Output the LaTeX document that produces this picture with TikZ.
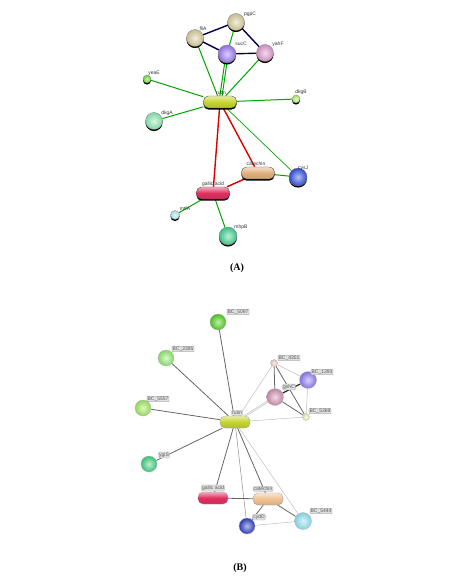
\documentclass[tikz,border=0pt]{standalone}
\usepackage{fontspec}
\setmainfont{Liberation Serif}
\setsansfont{Liberation Sans}
\usetikzlibrary{shadows}
\pgfdeclarelayer{bg}
\pgfsetlayers{bg,main}
\tikzset{
  ballA/.style={circle, inner sep=0pt, inner color=#1!35!white, outer color=#1!92!black, draw=black!50, line width=0.3pt,
    drop shadow={shadow xshift=0pt, shadow yshift=-1.6pt, fill=black, opacity=1}},
  ballB/.style={circle, inner sep=0pt, inner color=#1!35!white, outer color=#1!92!black, draw=black!30, line width=0.3pt},
  pillA/.style={rectangle, rounded corners=5pt, inner sep=0pt, minimum width=33pt, minimum height=12pt,
    top color=#1!40, bottom color=#1!90!black, middle color=#1, draw=black!70, line width=0.4pt,
    drop shadow={shadow xshift=0pt, shadow yshift=-1.6pt, fill=black, opacity=1}},
  pillB/.style={rectangle, rounded corners=5pt, inner sep=0pt, minimum width=30pt, minimum height=12pt,
    top color=#1!40, bottom color=#1!90!black, middle color=#1, draw=black!40, line width=0.3pt},
  labA/.style={font=\sffamily\fontsize{5}{6}\selectfont, text=black!80, inner sep=0.5pt},
  labB/.style={font=\sffamily\fontsize{5}{6}\selectfont, text=black!65, fill=black!12, draw=black!40,
    line width=0.2pt, rounded corners=1pt, inner sep=0.6pt},
  grn/.style={draw=green!65!black, line width=1pt},
  redl/.style={draw=red!85!black, line width=1.4pt},
  navy/.style={draw=blue!30!black, line width=1.4pt},
  gdark/.style={draw=black!60, line width=0.8pt},
  glight/.style={draw=black!25, line width=0.5pt},
  captxt/.style={font=\bfseries\fontsize{10}{12}\selectfont}
}
\definecolor{cTan}{HTML}{D6CC9C}
\definecolor{cViol}{HTML}{9A78F0}
\definecolor{cPink}{HTML}{DC98CC}
\definecolor{cGrn}{HTML}{6CE03C}
\definecolor{cMint}{HTML}{8CE8B0}
\definecolor{cLime}{HTML}{B0F070}
\definecolor{cRutin}{HTML}{C4D42C}
\definecolor{cCat}{HTML}{E0B07C}
\definecolor{cBlue}{HTML}{3050E0}
\definecolor{cGal}{HTML}{E03060}
\definecolor{cCyan}{HTML}{B0F0F0}
\definecolor{cTeal}{HTML}{40D090}
\definecolor{cG1}{HTML}{50D020}
\definecolor{cG2}{HTML}{90E870}
\definecolor{cG3}{HTML}{A0E860}
\definecolor{cG4}{HTML}{40D080}
\definecolor{cPeach}{HTML}{F0D0C0}
\definecolor{cPur}{HTML}{8E7CF0}
\definecolor{cRose}{HTML}{D090B0}
\definecolor{cPale}{HTML}{F0F0B0}
\definecolor{cCat2}{HTML}{F0C090}
\definecolor{cNavy}{HTML}{3040C0}
\definecolor{cSky}{HTML}{90E0F0}
\begin{document}
\begin{tikzpicture}[x=1pt,y=-1pt]
\useasboundingbox (0,0) rectangle (474,577);
% ---------------- Panel A ----------------
\node[ballA=cTan, minimum size=17pt] (fliA) at (195,38) {};
\node[ballA=cTan, minimum size=17pt] (pgpC) at (236,22) {};
\node[ballA=cViol, minimum size=18pt] (sucC) at (227,54) {};
\node[ballA=cPink, minimum size=17pt] (yahF) at (265,53) {};
\node[ballA=cGrn, minimum size=8pt] (yeaE) at (147,79) {};
\node[ballA=cMint, minimum size=17pt] (dkgA) at (154,121) {};
\node[ballA=cLime, minimum size=8pt] (dkgB) at (296,99) {};
\node[pillA=cRutin] (rutinA) at (220,102) {};
\node[pillA=cCat] (catA) at (258,173) {};
\node[ballA=cBlue, minimum size=18pt] (cysJ) at (298,177) {};
\node[pillA=cGal] (galA) at (213,193) {};
\node[ballA=cCyan, minimum size=9pt] (mtfA) at (175,215) {};
\node[ballA=cTeal, minimum size=18pt] (mhpB) at (228,236) {};
\node[labA] (lfliA) at (203,29) {fliA};
\node[labA] (lpgpC) at (250,14) {pgpC};
\node[labA] (lsucC) at (241,44) {sucC};
\node[labA] (lyahF) at (278,44) {yahF};
\node[labA] (lyeaE) at (154,73) {yeaE};
\node[labA] (ldkgA) at (167,113) {dkgA};
\node[labA] (ldkgB) at (301,92) {dkgB};
\node[labA] (lrutinA) at (221,93) {rutin};
\node[labA] (lcatA) at (256,164) {catechin};
\node[labA] (lcysJ) at (303,168) {cysJ};
\node[labA] (lgalA) at (213,184) {gallic acid};
\node[labA] (lmtfA) at (185,209) {mtfA};
\node[labA] (lmhpB) at (241,227) {mhpB};
\node[captxt] (capA) at (237,268) {(A)};
\begin{pgfonlayer}{bg}
\draw[navy] (fliA) -- (pgpC);
\draw[navy] (fliA) -- (sucC);
\draw[navy] (pgpC) -- (yahF);
\draw[navy] (sucC) -- (yahF);
\draw[grn] (pgpC) -- (sucC);
\draw[grn] ([xshift=-1pt]sucC.center) -- ([xshift=-1pt]rutinA.center);
\draw[grn] ([xshift=1.2pt]sucC.center) -- ([xshift=1.2pt]rutinA.center);
\draw[grn] (fliA) -- (rutinA);
\draw[grn] (yahF) -- (rutinA);
\draw[grn] (yeaE) -- (rutinA);
\draw[grn] (dkgA) -- (rutinA);
\draw[grn] (dkgB) -- (rutinA);
\draw[grn, line width=0.7pt] (rutinA) -- (cysJ);
\draw[grn] (catA) -- (cysJ);
\draw[redl] (rutinA) -- (catA);
\draw[redl] (rutinA) -- (galA);
\draw[redl] (catA) -- (galA);
\draw[grn] (galA) -- (mtfA);
\draw[grn] (galA) -- (mhpB);
\end{pgfonlayer}
% ---------------- Panel B ----------------
\node[ballB=cG1, minimum size=16pt] (b5097) at (218,322) {};
\node[ballB=cG2, minimum size=16pt] (b2395) at (166,358) {};
\node[ballB=cG3, minimum size=16pt] (b5557) at (143,408) {};
\node[pillB=cRutin] (rutinB) at (235,422) {};
\node[ballB=cPeach, minimum size=7pt] (b4351) at (274,363) {};
\node[ballB=cPur, minimum size=17pt] (b1393) at (308,380) {};
\node[ballB=cRose, minimum size=17pt] (gshC) at (275,397) {};
\node[ballB=cPale, minimum size=7pt] (b5369) at (306,417) {};
\node[ballB=cG4, minimum size=16pt] (ygiS) at (149,464) {};
\node[pillB=cGal] (galB) at (213,498) {};
\node[pillB=cCat2] (catB) at (268,499) {};
\node[ballB=cNavy, minimum size=16pt] (cydD) at (247,526) {};
\node[ballB=cSky, minimum size=17pt] (b5444) at (303,521) {};
\node[labB] (lb5097) at (238,312) {BC\_5097};
\node[labB] (lb2395) at (183,349) {BC\_2395};
\node[labB] (lb5557) at (158,399) {BC\_5557};
\node[labB] (lrutinB) at (237,413) {rutin};
\node[labB] (lb4351) at (289,358) {BC\_4351};
\node[labB] (lb1393) at (322,372) {BC\_1393};
\node[labB] (lgshC) at (289,387) {gshC};
\node[labB] (lb5369) at (320,411) {BC\_5369};
\node[labB] (lygiS) at (164,455) {ygiS};
\node[labB] (lgalB) at (213,488) {gallic acid};
\node[labB] (lcatB) at (263,489) {catechin};
\node[labB] (lcydD) at (259,517) {cydD};
\node[labB] (lb5444) at (321,511) {BC\_5444};
\node[captxt] (capB) at (240,568) {(B)};
\begin{pgfonlayer}{bg}
\draw[gdark] (rutinB) -- (b5097);
\draw[gdark] (rutinB) -- (b2395);
\draw[gdark] (rutinB) -- (b5557);
\draw[gdark] (rutinB) -- (ygiS);
\draw[gdark] (rutinB) -- (galB);
\draw[gdark] (rutinB) -- (catB);
\draw[glight, draw=black!45] (rutinB) -- (cydD);
\draw[glight] (rutinB) -- (b5444);
\draw[glight] (rutinB) -- (b4351);
\draw[glight] ([yshift=-0.8pt]rutinB.center) -- ([yshift=-0.8pt]gshC.center);
\draw[glight] ([yshift=0.8pt]rutinB.center) -- ([yshift=0.8pt]gshC.center);
\draw[glight] (rutinB) -- (b5369);
\draw[gdark] (galB) -- (catB);
\draw[gdark] (catB) -- (cydD);
\draw[gdark] (catB) -- (b5444);
\draw[glight] (cydD) -- (b5444);
\draw[gdark] (b4351) -- (gshC);
\draw[glight] (b4351) -- (b1393);
\draw[gdark] (b4351) -- (b5369);
\draw[draw=black!85, line width=1.2pt] (gshC) -- (b1393);
\draw[gdark] (gshC) -- (b5369);
\draw[glight] (b1393) -- (b5369);
\end{pgfonlayer}
\end{tikzpicture}
\end{document}
